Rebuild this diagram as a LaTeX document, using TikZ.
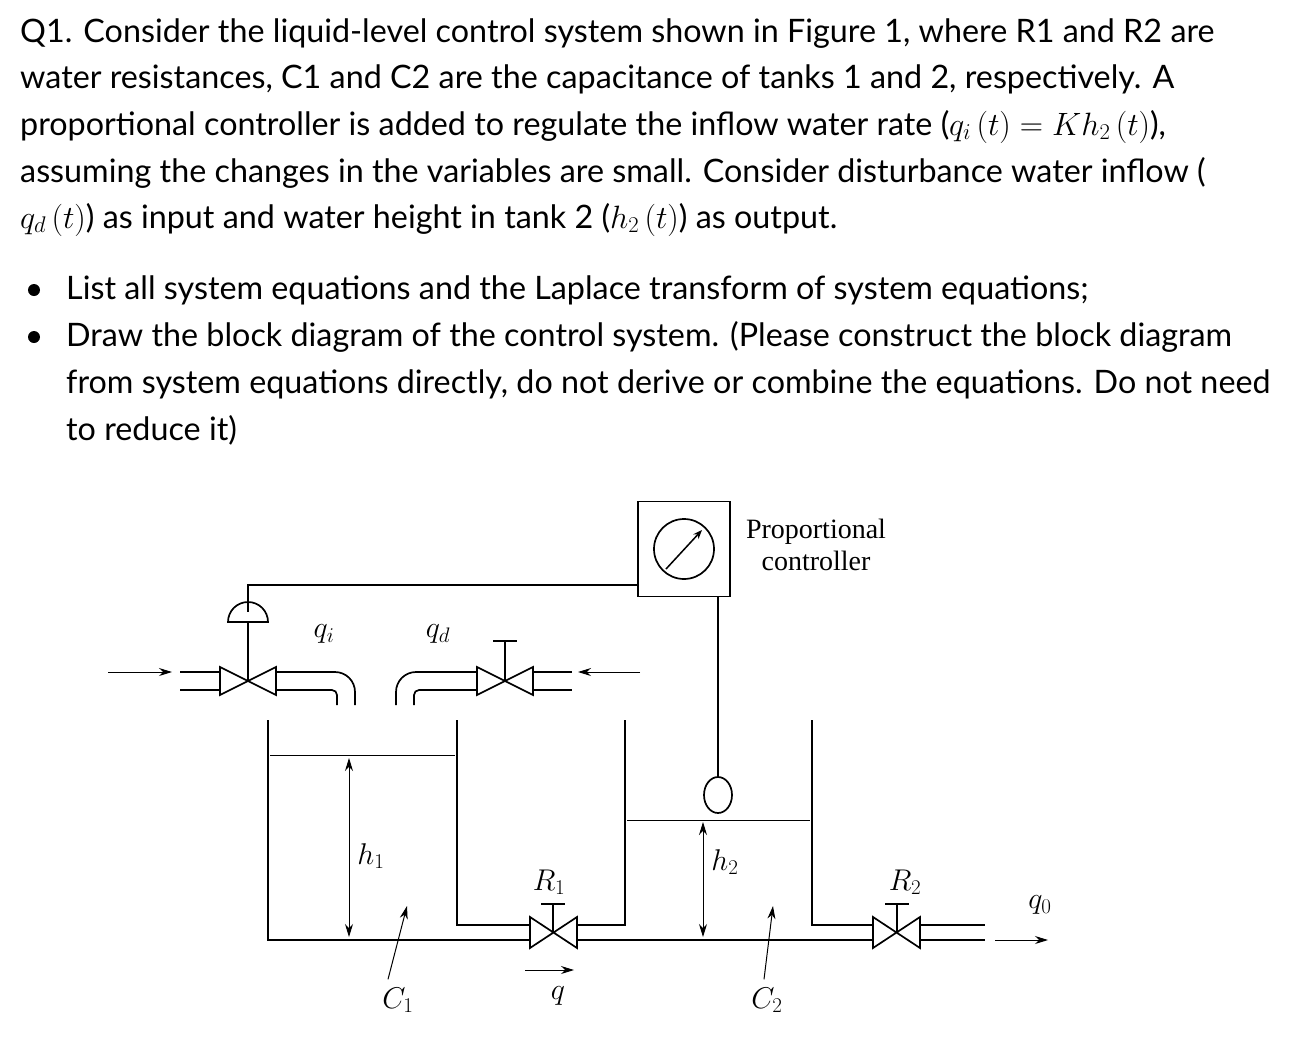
\documentclass[tikz,border=0pt]{standalone}
\usepackage{fix-cm}
\usepackage{fontspec}
\setmainfont{Lato}
\newfontfamily\tms{Liberation Serif}
\usetikzlibrary{arrows.meta}
\begin{document}
\begin{tikzpicture}[x=1pt,y=-1pt,
  txt/.style={anchor=base west,inner sep=0,font=\fontsize{32.3}{38}\selectfont},
  lbl/.style={inner sep=0,font=\tms\itshape\fontsize{30}{32}\selectfont},
  pipe/.style={line width=1.7pt},
  thin/.style={line width=1pt},
  arr/.style={line width=1pt,-{Stealth[length=13pt,width=8pt]}},
  darr/.style={line width=1pt,{Stealth[length=13pt,width=8pt]}-{Stealth[length=13pt,width=8pt]}}]
\useasboundingbox (0,0) rectangle (1314,1042);
% text
\node[txt] (l1) at (20,42) {Q1. Consider the liquid-level control system shown in Figure 1, where R1 and R2 are};
\node[txt] (l2) at (20,88) {water resistances, C1 and C2 are the capacitance of tanks 1 and 2, respectively. A};
\node[txt] (l3) at (20,135) {proportional controller is added to regulate the inflow water rate ($q_i\,(t)=Kh_2\,(t)$),};
\node[txt] (l4) at (20,182) {assuming the changes in the variables are small. Consider disturbance water inflow (};
\node[txt] (l5) at (20,228) {$q_d\,(t)$) as input and water height in tank 2 ($h_2\,(t)$) as output.};
\fill (34,290) circle (6) (34,337) circle (6);
\node[txt] (b1) at (66,299) {List all system equations and the Laplace transform of system equations;};
\node[txt] (b2) at (66,346) {Draw the block diagram of the control system. (Please construct the block diagram};
\node[txt] (b3) at (66,393) {from system equations directly, do not derive or combine the equations. Do not need};
\node[txt] (b4) at (66,440) {to reduce it)};
% controller
\node[draw,pipe,minimum width=92,minimum height=95,inner sep=0] (ctrl) at (684,549) {};
\draw[pipe] (684,549) circle (30);
\draw[line width=1.5pt,-{Stealth[length=9pt,width=7pt]}] (666,569) -- (702,530);
\node[font=\tms\fontsize{28}{32}\selectfont,align=center,inner sep=0] (ptxt) at (816,545) {Proportional\\controller};
% signal lines
\draw[pipe] (638,585) -- (248,585) -- (248,612);
\draw[pipe] (228,622) arc (180:360:20) -- cycle;
\draw[pipe] (248,622) -- (248,681);
\draw[pipe] (718,597) -- (718,777);
\draw[pipe] (718,795) ellipse (14 and 18);
% valve qi
\draw[pipe] (220,667) -- (220,695) -- (276,667) -- (276,695) -- cycle;
\draw[pipe] (180,672) -- (220,672) (180,690) -- (220,690);
\draw[pipe] (276,672) -- (335,672) arc (270:360:20) -- (355,705);
\draw[pipe] (276,690) -- (332,690) arc (270:360:5) -- (337,705);
\draw[arr] (108,672) -- (172,672);
\node[lbl] (qi) at (324,634) {$q_i$};
% valve qd
\draw[pipe] (477,667) -- (477,695) -- (533,667) -- (533,695) -- cycle;
\draw[pipe] (505,681) -- (505,641) (493,641) -- (517,641);
\draw[pipe] (533,672) -- (572,672) (533,690) -- (572,690);
\draw[pipe] (477,672) -- (416,672) arc (270:180:20) -- (396,705);
\draw[pipe] (477,690) -- (419,690) arc (270:180:5) -- (414,705);
\draw[arr] (640,672) -- (578,672);
\node[lbl] (qd) at (438,634) {$q_d$};
% tank 1
\draw[pipe] (268,720) -- (268,940) -- (530,940);
\draw[pipe] (457,720) -- (457,925) -- (530,925);
\draw[thin] (270,755) -- (455,755);
\draw[darr] (349,758) -- (349,937);
\node[lbl,fill=white,inner sep=2pt] (h1) at (371,856) {$h_1$};
% valve R1
\draw[pipe] (530,917) -- (530,948) -- (577,917) -- (577,948) -- cycle;
\draw[pipe] (553,932) -- (553,904) (541,904) -- (565,904);
\node[lbl] (r1) at (549,882) {$R_1$};
\draw[arr] (525,970) -- (574,970);
\node[lbl] (q) at (558,996) {$q$};
% tank 2
\draw[pipe] (577,925) -- (625,925) -- (625,720);
\draw[pipe] (577,940) -- (873,940);
\draw[pipe] (812,720) -- (812,925) -- (873,925);
\draw[thin] (627,820) -- (810,820);
\draw[darr] (703,822) -- (703,937);
\node[lbl,fill=white,inner sep=2pt] (h2) at (725,862) {$h_2$};
% valve R2
\draw[pipe] (873,917) -- (873,948) -- (920,917) -- (920,948) -- cycle;
\draw[pipe] (897,932) -- (897,904) (885,904) -- (909,904);
\node[lbl] (r2) at (905,882) {$R_2$};
\draw[pipe] (920,925) -- (985,925) (920,940) -- (985,940);
\draw[arr] (995,940) -- (1048,940);
\node[lbl] (q0) at (1040,905) {$q_0$};
% capacitances
\node[lbl] (c1) at (398,1000) {$C_1$};
\node[lbl] (c2) at (767,1000) {$C_2$};
\draw[arr] (c1.north) ++(-10,-8) -- (407,906);
\draw[arr] (c2.north) ++(-3,-8) -- (773,906);
\end{tikzpicture}
\end{document}
